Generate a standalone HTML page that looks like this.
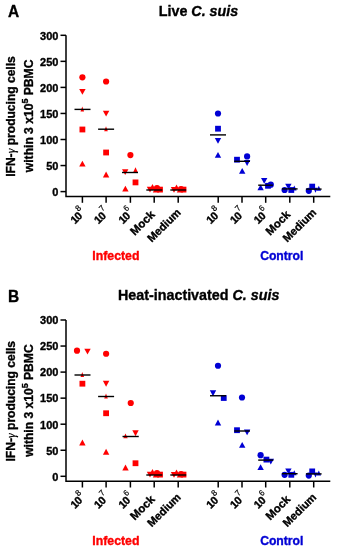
<!DOCTYPE html>
<html><head><meta charset="utf-8"><style>
html,body{margin:0;padding:0;background:#fff;}
body{width:337px;height:550px;overflow:hidden;}
svg{display:block;will-change:transform;}
text{font-family:"Liberation Sans",sans-serif;stroke:#000;stroke-width:0.35px;stroke-linejoin:round;}
</style></head><body>
<svg width="337" height="550" viewBox="0 0 337 550">
<rect width="337" height="550" fill="#fff"/>
<text x="0" y="0" font-size="16.3" font-weight="bold" transform="translate(7.9 16.6) scale(0.95 1)">A</text>
<text x="198.5" y="15.5" font-size="14.3" font-weight="bold" text-anchor="middle">Live <tspan font-style="italic">C. suis</tspan></text>
<path d="M66 35.3V196.5H330.3" stroke="#000" stroke-width="1.5" fill="none"/>
<path d="M60.5 191.60H66" stroke="#000" stroke-width="1.5"/>
<text x="58.4" y="195.90" font-size="11" font-weight="bold" text-anchor="end">0</text>
<path d="M60.5 165.55H66" stroke="#000" stroke-width="1.5"/>
<text x="58.4" y="169.85" font-size="11" font-weight="bold" text-anchor="end">50</text>
<path d="M60.5 139.50H66" stroke="#000" stroke-width="1.5"/>
<text x="58.4" y="143.80" font-size="11" font-weight="bold" text-anchor="end">100</text>
<path d="M60.5 113.45H66" stroke="#000" stroke-width="1.5"/>
<text x="58.4" y="117.75" font-size="11" font-weight="bold" text-anchor="end">150</text>
<path d="M60.5 87.40H66" stroke="#000" stroke-width="1.5"/>
<text x="58.4" y="91.70" font-size="11" font-weight="bold" text-anchor="end">200</text>
<path d="M60.5 61.35H66" stroke="#000" stroke-width="1.5"/>
<text x="58.4" y="65.65" font-size="11" font-weight="bold" text-anchor="end">250</text>
<path d="M60.5 35.30H66" stroke="#000" stroke-width="1.5"/>
<text x="58.4" y="39.60" font-size="11" font-weight="bold" text-anchor="end">300</text>
<path d="M82.4 196.5V202.8" stroke="#000" stroke-width="1.5"/>
<path d="M106.1 196.5V202.8" stroke="#000" stroke-width="1.5"/>
<path d="M130.4 196.5V202.8" stroke="#000" stroke-width="1.5"/>
<path d="M154.2 196.5V202.8" stroke="#000" stroke-width="1.5"/>
<path d="M178.2 196.5V202.8" stroke="#000" stroke-width="1.5"/>
<path d="M218.2 196.5V202.8" stroke="#000" stroke-width="1.5"/>
<path d="M242.0 196.5V202.8" stroke="#000" stroke-width="1.5"/>
<path d="M265.7 196.5V202.8" stroke="#000" stroke-width="1.5"/>
<path d="M289.8 196.5V202.8" stroke="#000" stroke-width="1.5"/>
<path d="M313.7 196.5V202.8" stroke="#000" stroke-width="1.5"/>
<g transform="translate(74.90 224.6) rotate(-45)"><text x="0" y="0" font-size="10.9" font-weight="bold"><tspan>1</tspan><tspan dx="-0.5">0</tspan><tspan font-weight="normal" style="stroke-width:0.2px" font-size="8.2" dy="-6.4" dx="0">8</tspan></text></g>
<g transform="translate(98.60 224.6) rotate(-45)"><text x="0" y="0" font-size="10.9" font-weight="bold"><tspan>1</tspan><tspan dx="-0.5">0</tspan><tspan font-weight="normal" style="stroke-width:0.2px" font-size="8.2" dy="-6.4" dx="0">7</tspan></text></g>
<g transform="translate(122.90 224.6) rotate(-45)"><text x="0" y="0" font-size="10.9" font-weight="bold"><tspan>1</tspan><tspan dx="-0.5">0</tspan><tspan font-weight="normal" style="stroke-width:0.2px" font-size="8.2" dy="-6.4" dx="0">6</tspan></text></g>
<g transform="translate(155.50 215.2) rotate(-45)"><text x="0" y="0" font-size="11.5" font-weight="bold" text-anchor="end">Mock</text></g>
<g transform="translate(181.40 213.2) rotate(-45)"><text x="0" y="0" font-size="11.1" font-weight="bold" text-anchor="end">Medium</text></g>
<g transform="translate(210.70 224.6) rotate(-45)"><text x="0" y="0" font-size="10.9" font-weight="bold"><tspan>1</tspan><tspan dx="-0.5">0</tspan><tspan font-weight="normal" style="stroke-width:0.2px" font-size="8.2" dy="-6.4" dx="0">8</tspan></text></g>
<g transform="translate(234.50 224.6) rotate(-45)"><text x="0" y="0" font-size="10.9" font-weight="bold"><tspan>1</tspan><tspan dx="-0.5">0</tspan><tspan font-weight="normal" style="stroke-width:0.2px" font-size="8.2" dy="-6.4" dx="0">7</tspan></text></g>
<g transform="translate(258.20 224.6) rotate(-45)"><text x="0" y="0" font-size="10.9" font-weight="bold"><tspan>1</tspan><tspan dx="-0.5">0</tspan><tspan font-weight="normal" style="stroke-width:0.2px" font-size="8.2" dy="-6.4" dx="0">6</tspan></text></g>
<g transform="translate(291.10 215.2) rotate(-45)"><text x="0" y="0" font-size="11.5" font-weight="bold" text-anchor="end">Mock</text></g>
<g transform="translate(316.90 213.2) rotate(-45)"><text x="0" y="0" font-size="11.1" font-weight="bold" text-anchor="end">Medium</text></g>
<text x="115.9" y="260.0" font-size="12.3" font-weight="bold" style="fill:#ff0000;stroke:#ff0000" text-anchor="middle">Infected</text>
<text x="281.8" y="260.1" font-size="12.2" font-weight="bold" style="fill:#0000d4;stroke:#0000d4" text-anchor="middle">Control</text>
<g transform="translate(15.4 116.5) rotate(-90)"><text x="0" y="0" font-size="12.05" font-weight="bold" text-anchor="middle">IFN-<tspan font-weight="normal" style="stroke-width:0.2px" font-family="Liberation Serif" font-style="italic">γ</tspan> producing cells</text></g>
<g transform="translate(32.8 115.9) rotate(-90)"><text x="0" y="0" font-size="12.1" font-weight="bold" text-anchor="middle">within 3 x10<tspan font-size="9" dy="-5.0">5</tspan><tspan dy="5.0"> PBMC</tspan></text></g>
<circle cx="82.4" cy="77.3" r="3.1" fill="#ff0000"/>
<path d="M79.20 88.90L85.60 88.90L82.40 94.70Z" fill="#ff0000"/>
<path d="M82.30 106.50L84.10 111.50L80.50 111.50Z" fill="#ff0000"/>
<rect x="79.50" y="126.60" width="5.8" height="5.8" fill="#ff0000"/>
<path d="M82.40 160.80L85.60 166.60L79.20 166.60Z" fill="#ff0000"/>
<path d="M74.5 109.4H90.5" stroke="#000" stroke-width="1.4"/>
<circle cx="106.1" cy="81.5" r="3.1" fill="#ff0000"/>
<path d="M102.90 110.80L109.30 110.80L106.10 116.60Z" fill="#ff0000"/>
<path d="M106.00 126.30L107.80 131.30L104.20 131.30Z" fill="#ff0000"/>
<rect x="103.20" y="149.60" width="5.8" height="5.8" fill="#ff0000"/>
<path d="M106.10 171.60L109.30 177.40L102.90 177.40Z" fill="#ff0000"/>
<path d="M98.1 129.2H114.1" stroke="#000" stroke-width="1.4"/>
<circle cx="130.4" cy="155.1" r="3.1" fill="#ff0000"/>
<path d="M122.00 169.20L128.40 169.20L125.20 175.00Z" fill="#ff0000"/>
<path d="M135.50 167.20L137.70 172.00L133.30 172.00Z" fill="#ff0000"/>
<rect x="132.60" y="179.50" width="5.8" height="5.8" fill="#ff0000"/>
<path d="M125.40 185.70L128.60 191.50L122.20 191.50Z" fill="#ff0000"/>
<path d="M122 172.5H138" stroke="#000" stroke-width="1.4"/>
<circle cx="157" cy="188.0" r="3.1" fill="#ff0000"/>
<rect x="157.10" y="186.70" width="5.8" height="5.8" fill="#ff0000"/>
<path d="M146.80 186.70L153.20 186.70L150.00 192.50Z" fill="#ff0000"/>
<path d="M152.50 184.10L155.70 189.90L149.30 189.90Z" fill="#ff0000"/>
<path d="M156.00 186.60L159.20 192.40L152.80 192.40Z" fill="#ff0000"/>
<path d="M146.3 190H162.3" stroke="#000" stroke-width="1.4"/>
<circle cx="181" cy="189.0" r="3.1" fill="#ff0000"/>
<rect x="180.60" y="186.70" width="5.8" height="5.8" fill="#ff0000"/>
<path d="M170.80 186.90L177.20 186.90L174.00 192.70Z" fill="#ff0000"/>
<path d="M176.50 184.40L179.70 190.20L173.30 190.20Z" fill="#ff0000"/>
<path d="M180.00 186.60L183.20 192.40L176.80 192.40Z" fill="#ff0000"/>
<path d="M170.3 190H186.2" stroke="#000" stroke-width="1.4"/>
<circle cx="218.0" cy="113.5" r="3.1" fill="#0000d4"/>
<rect x="215.10" y="125.80" width="5.8" height="5.8" fill="#0000d4"/>
<path d="M214.80 137.90L221.20 137.90L218.00 143.70Z" fill="#0000d4"/>
<path d="M218.00 152.00L221.20 157.80L214.80 157.80Z" fill="#0000d4"/>
<path d="M210 134.9H226" stroke="#000" stroke-width="1.4"/>
<circle cx="247.1" cy="156.4" r="3.1" fill="#0000d4"/>
<rect x="234.10" y="156.80" width="5.8" height="5.8" fill="#0000d4"/>
<path d="M243.90 160.10L250.30 160.10L247.10 165.90Z" fill="#0000d4"/>
<path d="M242.20 167.90L245.40 173.70L239.00 173.70Z" fill="#0000d4"/>
<path d="M234.2 161.3H250" stroke="#000" stroke-width="1.4"/>
<path d="M261.00 178.00L267.40 178.00L264.20 183.80Z" fill="#0000d4"/>
<circle cx="270.8" cy="184.7" r="3.1" fill="#0000d4"/>
<rect x="265.10" y="182.90" width="5.8" height="5.8" fill="#0000d4"/>
<path d="M260.60 184.50L263.80 190.30L257.40 190.30Z" fill="#0000d4"/>
<path d="M258.2 185.2H272.9" stroke="#000" stroke-width="1.4"/>
<circle cx="284.6" cy="190.0" r="3.1" fill="#0000d4"/>
<path d="M285.20 183.70L291.60 183.70L288.40 189.50Z" fill="#0000d4"/>
<rect x="288.40" y="187.10" width="5.8" height="5.8" fill="#0000d4"/>
<path d="M294.30 185.50L296.60 190.50L292.00 190.50Z" fill="#0000d4"/>
<path d="M281.9 188.9H297.6" stroke="#000" stroke-width="1.4"/>
<circle cx="308.8" cy="190.8" r="3.1" fill="#0000d4"/>
<rect x="309.30" y="183.70" width="5.8" height="5.8" fill="#0000d4"/>
<path d="M313.20 187.80L317.80 187.80L315.50 192.80Z" fill="#0000d4"/>
<path d="M318.80 185.80L321.10 190.80L316.50 190.80Z" fill="#0000d4"/>
<path d="M305.9 189.1H321.6" stroke="#000" stroke-width="1.4"/>
<text x="0" y="0" font-size="16.3" font-weight="bold" transform="translate(7.9 302.2) scale(0.95 1)">B</text>
<text x="198.7" y="300.3" font-size="14.3" font-weight="bold" text-anchor="middle">Heat-inactivated <tspan font-style="italic">C. suis</tspan></text>
<path d="M66 320.0V481.2H330.3" stroke="#000" stroke-width="1.5" fill="none"/>
<path d="M60.5 476.30H66" stroke="#000" stroke-width="1.5"/>
<text x="58.4" y="480.60" font-size="11" font-weight="bold" text-anchor="end">0</text>
<path d="M60.5 450.25H66" stroke="#000" stroke-width="1.5"/>
<text x="58.4" y="454.55" font-size="11" font-weight="bold" text-anchor="end">50</text>
<path d="M60.5 424.20H66" stroke="#000" stroke-width="1.5"/>
<text x="58.4" y="428.50" font-size="11" font-weight="bold" text-anchor="end">100</text>
<path d="M60.5 398.15H66" stroke="#000" stroke-width="1.5"/>
<text x="58.4" y="402.45" font-size="11" font-weight="bold" text-anchor="end">150</text>
<path d="M60.5 372.10H66" stroke="#000" stroke-width="1.5"/>
<text x="58.4" y="376.40" font-size="11" font-weight="bold" text-anchor="end">200</text>
<path d="M60.5 346.05H66" stroke="#000" stroke-width="1.5"/>
<text x="58.4" y="350.35" font-size="11" font-weight="bold" text-anchor="end">250</text>
<path d="M60.5 320.00H66" stroke="#000" stroke-width="1.5"/>
<text x="58.4" y="324.30" font-size="11" font-weight="bold" text-anchor="end">300</text>
<path d="M82.4 481.2V487.5" stroke="#000" stroke-width="1.5"/>
<path d="M106.1 481.2V487.5" stroke="#000" stroke-width="1.5"/>
<path d="M130.4 481.2V487.5" stroke="#000" stroke-width="1.5"/>
<path d="M154.2 481.2V487.5" stroke="#000" stroke-width="1.5"/>
<path d="M178.2 481.2V487.5" stroke="#000" stroke-width="1.5"/>
<path d="M218.2 481.2V487.5" stroke="#000" stroke-width="1.5"/>
<path d="M242.0 481.2V487.5" stroke="#000" stroke-width="1.5"/>
<path d="M265.7 481.2V487.5" stroke="#000" stroke-width="1.5"/>
<path d="M289.8 481.2V487.5" stroke="#000" stroke-width="1.5"/>
<path d="M313.7 481.2V487.5" stroke="#000" stroke-width="1.5"/>
<g transform="translate(74.90 509.29999999999995) rotate(-45)"><text x="0" y="0" font-size="10.9" font-weight="bold"><tspan>1</tspan><tspan dx="-0.5">0</tspan><tspan font-weight="normal" style="stroke-width:0.2px" font-size="8.2" dy="-6.4" dx="0">8</tspan></text></g>
<g transform="translate(98.60 509.29999999999995) rotate(-45)"><text x="0" y="0" font-size="10.9" font-weight="bold"><tspan>1</tspan><tspan dx="-0.5">0</tspan><tspan font-weight="normal" style="stroke-width:0.2px" font-size="8.2" dy="-6.4" dx="0">7</tspan></text></g>
<g transform="translate(122.90 509.29999999999995) rotate(-45)"><text x="0" y="0" font-size="10.9" font-weight="bold"><tspan>1</tspan><tspan dx="-0.5">0</tspan><tspan font-weight="normal" style="stroke-width:0.2px" font-size="8.2" dy="-6.4" dx="0">6</tspan></text></g>
<g transform="translate(155.50 499.9) rotate(-45)"><text x="0" y="0" font-size="11.5" font-weight="bold" text-anchor="end">Mock</text></g>
<g transform="translate(181.40 497.9) rotate(-45)"><text x="0" y="0" font-size="11.1" font-weight="bold" text-anchor="end">Medium</text></g>
<g transform="translate(210.70 509.29999999999995) rotate(-45)"><text x="0" y="0" font-size="10.9" font-weight="bold"><tspan>1</tspan><tspan dx="-0.5">0</tspan><tspan font-weight="normal" style="stroke-width:0.2px" font-size="8.2" dy="-6.4" dx="0">8</tspan></text></g>
<g transform="translate(234.50 509.29999999999995) rotate(-45)"><text x="0" y="0" font-size="10.9" font-weight="bold"><tspan>1</tspan><tspan dx="-0.5">0</tspan><tspan font-weight="normal" style="stroke-width:0.2px" font-size="8.2" dy="-6.4" dx="0">7</tspan></text></g>
<g transform="translate(258.20 509.29999999999995) rotate(-45)"><text x="0" y="0" font-size="10.9" font-weight="bold"><tspan>1</tspan><tspan dx="-0.5">0</tspan><tspan font-weight="normal" style="stroke-width:0.2px" font-size="8.2" dy="-6.4" dx="0">6</tspan></text></g>
<g transform="translate(291.10 499.9) rotate(-45)"><text x="0" y="0" font-size="11.5" font-weight="bold" text-anchor="end">Mock</text></g>
<g transform="translate(316.90 497.9) rotate(-45)"><text x="0" y="0" font-size="11.1" font-weight="bold" text-anchor="end">Medium</text></g>
<text x="115.9" y="544.7" font-size="12.3" font-weight="bold" style="fill:#ff0000;stroke:#ff0000" text-anchor="middle">Infected</text>
<text x="281.8" y="544.8" font-size="12.2" font-weight="bold" style="fill:#0000d4;stroke:#0000d4" text-anchor="middle">Control</text>
<g transform="translate(15.4 401.2) rotate(-90)"><text x="0" y="0" font-size="12.05" font-weight="bold" text-anchor="middle">IFN-<tspan font-weight="normal" style="stroke-width:0.2px" font-family="Liberation Serif" font-style="italic">γ</tspan> producing cells</text></g>
<g transform="translate(32.8 400.6) rotate(-90)"><text x="0" y="0" font-size="12.1" font-weight="bold" text-anchor="middle">within 3 x10<tspan font-size="9" dy="-5.0">5</tspan><tspan dy="5.0"> PBMC</tspan></text></g>
<circle cx="77.0" cy="350.7" r="3.1" fill="#ff0000"/>
<path d="M84.30 348.80L90.70 348.80L87.50 354.60Z" fill="#ff0000"/>
<path d="M82.30 372.10L84.10 377.10L80.50 377.10Z" fill="#ff0000"/>
<rect x="79.50" y="380.80" width="5.8" height="5.8" fill="#ff0000"/>
<path d="M82.40 439.60L85.60 445.40L79.20 445.40Z" fill="#ff0000"/>
<path d="M74.5 375.0H90.5" stroke="#000" stroke-width="1.4"/>
<circle cx="106.1" cy="353.75" r="3.1" fill="#ff0000"/>
<path d="M102.90 380.85L109.30 380.85L106.10 386.65Z" fill="#ff0000"/>
<path d="M106.00 393.60L107.80 398.60L104.20 398.60Z" fill="#ff0000"/>
<rect x="103.20" y="410.35" width="5.8" height="5.8" fill="#ff0000"/>
<path d="M106.10 448.85L109.30 454.65L102.90 454.65Z" fill="#ff0000"/>
<path d="M98.1 396.5H114.1" stroke="#000" stroke-width="1.4"/>
<circle cx="130.75" cy="403.0" r="3.1" fill="#ff0000"/>
<path d="M132.30 430.35L138.70 430.35L135.50 436.15Z" fill="#ff0000"/>
<path d="M125.50 433.40L127.70 438.20L123.30 438.20Z" fill="#ff0000"/>
<rect x="132.60" y="460.35" width="5.8" height="5.8" fill="#ff0000"/>
<path d="M125.50 464.60L128.70 470.40L122.30 470.40Z" fill="#ff0000"/>
<path d="M122.5 436.5H138.75" stroke="#000" stroke-width="1.4"/>
<circle cx="157" cy="473.0" r="3.1" fill="#ff0000"/>
<rect x="157.10" y="471.70" width="5.8" height="5.8" fill="#ff0000"/>
<path d="M146.80 471.70L153.20 471.70L150.00 477.50Z" fill="#ff0000"/>
<path d="M152.50 469.10L155.70 474.90L149.30 474.90Z" fill="#ff0000"/>
<path d="M156.00 471.60L159.20 477.40L152.80 477.40Z" fill="#ff0000"/>
<path d="M146.3 475H162.3" stroke="#000" stroke-width="1.4"/>
<circle cx="181" cy="474.0" r="3.1" fill="#ff0000"/>
<rect x="180.60" y="471.70" width="5.8" height="5.8" fill="#ff0000"/>
<path d="M170.80 471.90L177.20 471.90L174.00 477.70Z" fill="#ff0000"/>
<path d="M176.50 469.40L179.70 475.20L173.30 475.20Z" fill="#ff0000"/>
<path d="M180.00 471.60L183.20 477.40L176.80 477.40Z" fill="#ff0000"/>
<path d="M170.3 475H186.2" stroke="#000" stroke-width="1.4"/>
<circle cx="218.0" cy="365.75" r="3.1" fill="#0000d4"/>
<path d="M209.80 390.35L216.20 390.35L213.00 396.15Z" fill="#0000d4"/>
<rect x="220.85" y="395.10" width="5.8" height="5.8" fill="#0000d4"/>
<path d="M218.00 419.60L221.20 425.40L214.80 425.40Z" fill="#0000d4"/>
<path d="M210 395.75H226" stroke="#000" stroke-width="1.4"/>
<circle cx="242.0" cy="397.5" r="3.1" fill="#0000d4"/>
<rect x="234.10" y="427.30" width="5.8" height="5.8" fill="#0000d4"/>
<path d="M243.90 429.40L250.30 429.40L247.10 435.20Z" fill="#0000d4"/>
<path d="M242.20 442.00L245.40 447.80L239.00 447.80Z" fill="#0000d4"/>
<path d="M234.2 431.0H250" stroke="#000" stroke-width="1.4"/>
<circle cx="260.6" cy="455.2" r="3.1" fill="#0000d4"/>
<rect x="263.50" y="456.70" width="5.8" height="5.8" fill="#0000d4"/>
<path d="M267.60 458.80L274.00 458.80L270.80 464.60Z" fill="#0000d4"/>
<path d="M260.60 464.20L263.80 470.00L257.40 470.00Z" fill="#0000d4"/>
<path d="M258.2 460.1H273.4" stroke="#000" stroke-width="1.4"/>
<circle cx="284.6" cy="474.8" r="3.1" fill="#0000d4"/>
<path d="M285.20 468.50L291.60 468.50L288.40 474.30Z" fill="#0000d4"/>
<rect x="288.40" y="471.90" width="5.8" height="5.8" fill="#0000d4"/>
<path d="M294.30 470.30L296.60 475.30L292.00 475.30Z" fill="#0000d4"/>
<path d="M281.9 473.7H297.6" stroke="#000" stroke-width="1.4"/>
<circle cx="308.8" cy="475.6" r="3.1" fill="#0000d4"/>
<rect x="309.30" y="468.50" width="5.8" height="5.8" fill="#0000d4"/>
<path d="M313.20 472.60L317.80 472.60L315.50 477.60Z" fill="#0000d4"/>
<path d="M318.80 470.60L321.10 475.60L316.50 475.60Z" fill="#0000d4"/>
<path d="M305.9 473.9H321.6" stroke="#000" stroke-width="1.4"/>
</svg>
</body></html>
